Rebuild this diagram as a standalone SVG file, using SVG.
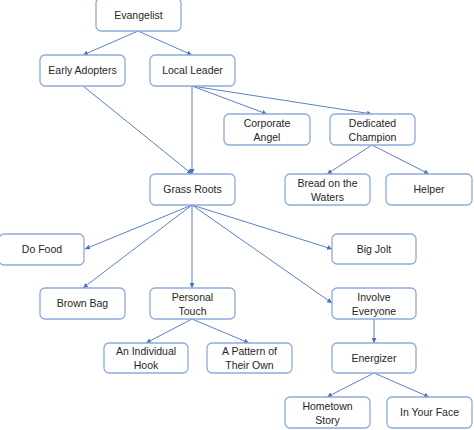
<svg xmlns="http://www.w3.org/2000/svg" width="474" height="430" viewBox="0 0 474 430">
<style>
.box{fill:#ffffff;stroke:#8FAADC;stroke-width:1.3}
.t{font-family:"Liberation Sans",Arial,sans-serif;font-size:10.5px;fill:#262626;text-anchor:middle}
.c{stroke:#5B7FC7;stroke-width:1;fill:none;marker-end:url(#ah)}
</style>
<defs>
<marker id="ah" viewBox="0 0 10 10" refX="10" refY="5" markerWidth="5" markerHeight="5" markerUnits="userSpaceOnUse" orient="auto">
<path d="M0,0 L10,5 L0,10 z" fill="#4472C4"/>
</marker>
</defs>
<rect width="474" height="430" fill="#ffffff"/>
<g id="connectors">
<line class="c" x1="138" y1="31" x2="83" y2="55"/>
<line class="c" x1="138" y1="31" x2="192" y2="55"/>
<line class="c" x1="83" y1="86" x2="192" y2="174"/>
<line class="c" x1="192" y1="86" x2="192" y2="174"/>
<line class="c" x1="192" y1="86" x2="267" y2="114"/>
<line class="c" x1="192" y1="86" x2="372" y2="114"/>
<line class="c" x1="372" y1="145" x2="327" y2="174"/>
<line class="c" x1="372" y1="145" x2="429" y2="174"/>
<line class="c" x1="192" y1="205" x2="85" y2="249"/>
<line class="c" x1="192" y1="205" x2="83" y2="288"/>
<line class="c" x1="192" y1="205" x2="192" y2="288"/>
<line class="c" x1="192" y1="205" x2="332" y2="249"/>
<line class="c" x1="192" y1="205" x2="332" y2="303"/>
<line class="c" x1="192" y1="319" x2="146" y2="343"/>
<line class="c" x1="192" y1="319" x2="249" y2="343"/>
<line class="c" x1="374" y1="319" x2="374" y2="343"/>
<line class="c" x1="374" y1="373" x2="327" y2="397"/>
<line class="c" x1="374" y1="373" x2="429" y2="397"/>
</g>
<g id="evangelist"><rect class="box" x="96" y="-2" width="85" height="33" rx="5"/><text class="t" x="138.5" y="19">Evangelist</text></g>
<g id="early-adopters"><rect class="box" x="40" y="55" width="85" height="31" rx="5"/><text class="t" x="82.5" y="74">Early Adopters</text></g>
<g id="local-leader"><rect class="box" x="150" y="55" width="85" height="31" rx="5"/><text class="t" x="192.5" y="74">Local Leader</text></g>
<g id="corporate-angel"><rect class="box" x="224" y="114" width="86" height="31" rx="5"/><text class="t" x="267" y="126.5">Corporate</text><text class="t" x="267" y="140.5">Angel</text></g>
<g id="dedicated-champion"><rect class="box" x="330" y="114" width="85" height="31" rx="5"/><text class="t" x="372.5" y="126.5">Dedicated</text><text class="t" x="372.5" y="140.5">Champion</text></g>
<g id="grass-roots"><rect class="box" x="150" y="174" width="85" height="31" rx="5"/><text class="t" x="192.5" y="193">Grass Roots</text></g>
<g id="bread-on-the-waters"><rect class="box" x="285" y="174" width="85" height="31" rx="5"/><text class="t" x="327.5" y="186.5">Bread on the</text><text class="t" x="327.5" y="200.5">Waters</text></g>
<g id="helper"><rect class="box" x="386" y="174" width="86" height="31" rx="5"/><text class="t" x="429" y="193">Helper</text></g>
<g id="do-food"><rect class="box" x="-1" y="234" width="85" height="31" rx="5"/><text class="t" x="42" y="253">Do Food</text></g>
<g id="big-jolt"><rect class="box" x="332" y="234" width="84" height="30" rx="5"/><text class="t" x="374" y="252.5">Big Jolt</text></g>
<g id="brown-bag"><rect class="box" x="40" y="288" width="85" height="31" rx="5"/><text class="t" x="82.5" y="307">Brown Bag</text></g>
<g id="personal-touch"><rect class="box" x="150" y="288" width="85" height="31" rx="5"/><text class="t" x="192.5" y="300.5">Personal</text><text class="t" x="192.5" y="314.5">Touch</text></g>
<g id="involve-everyone"><rect class="box" x="332" y="288" width="84" height="31" rx="5"/><text class="t" x="374" y="300.5">Involve</text><text class="t" x="374" y="314.5">Everyone</text></g>
<g id="an-individual-hook"><rect class="box" x="104" y="343" width="84" height="30" rx="5"/><text class="t" x="146" y="355">An Individual</text><text class="t" x="146" y="369">Hook</text></g>
<g id="a-pattern-of-their-own"><rect class="box" x="207" y="343" width="85" height="30" rx="5"/><text class="t" x="249.5" y="355">A Pattern of</text><text class="t" x="249.5" y="369">Their Own</text></g>
<g id="energizer"><rect class="box" x="332" y="343" width="84" height="30" rx="5"/><text class="t" x="374" y="361.5">Energizer</text></g>
<g id="hometown-story"><rect class="box" x="285" y="397" width="85" height="31" rx="5"/><text class="t" x="327.5" y="409.5">Hometown</text><text class="t" x="327.5" y="423.5">Story</text></g>
<g id="in-your-face"><rect class="box" x="387" y="397" width="85" height="31" rx="5"/><text class="t" x="429.5" y="416">In Your Face</text></g>
</svg>
